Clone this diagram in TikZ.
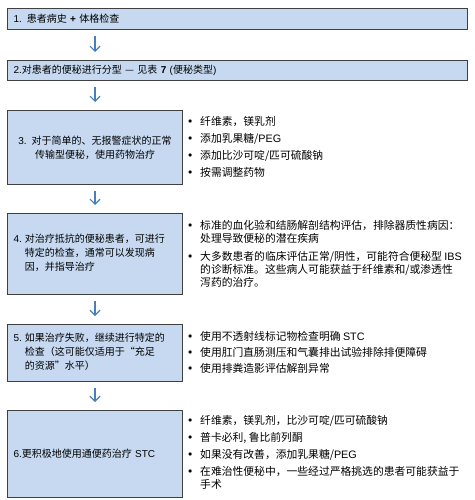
\documentclass[tikz,border=0pt]{standalone}
\usepackage{fontspec}
\setmainfont{Noto Sans CJK SC}
\newfontfamily\latin{Liberation Sans}
\usetikzlibrary{positioning,arrows.meta}
\definecolor{boxfill}{HTML}{C6D9F1}
\definecolor{boxline}{HTML}{404040}
\definecolor{arrowblue}{HTML}{4A7EBB}
\tikzstyle{stepbox}=[rectangle,draw=boxline,fill=boxfill,line width=1pt,inner xsep=6pt,inner ysep=0pt,text width=163pt,font=\fontsize{10}{14}\selectfont]
\tikzstyle{widebox}=[stepbox,text width=448pt,align=left]
\tikzstyle{bullets}=[inner sep=0pt,align=left,font=\fontsize{10.8}{13}\selectfont]
\tikzstyle{flow}=[arrowblue,line width=1.1pt,-{Straight Barb[length=5pt,width=10pt]},shorten <=6pt,shorten >=8pt]
\newcommand{\en}[1]{{\latin #1}}
\newcommand{\bl}{\makebox[12pt][l]{\raisebox{1.5pt}{$\scriptstyle\bullet$}}}

\begin{document}
\begin{tikzpicture}
    \useasboundingbox (0,0) rectangle (474pt,-500pt);

    \node (b1) [widebox,minimum height=21pt,anchor=north west] at (7pt,-8pt) {\en{1.} 患者病史 \en{\bfseries +} 体格检查};

    \node (b2) [widebox,minimum height=20pt,below=30pt of b1.south west,anchor=north west] {\en{2.}对患者的便秘进行分型 — 见表 \en{\bfseries 7} \en{(}便秘类型\en{)}};

    \node (b3) [stepbox,align=center,minimum height=74pt,below=29pt of b2.south west,anchor=north west] {\en{3.} 对于简单的、无报警症状的正常\\传输型便秘，使用药物治疗};
    \node (l3) [bullets,below right=6pt and 5pt of b3.north east] {\begin{tabular}{@{}l@{}l@{}}
        \bl & 纤维素，镁乳剂\\[4pt]
        \bl & 添加乳果糖/\en{PEG}\\[4pt]
        \bl & 添加比沙可啶/匹可硫酸钠\\[4pt]
        \bl & 按需调整药物
    \end{tabular}};

    \node (b4) [stepbox,align=left,minimum height=81pt,below=28pt of b3.south west,anchor=north west] {\begin{tabular}{@{}l@{\hspace{3pt}}l@{}}
        \en{4.} & 对治疗抵抗的便秘患者，可进行\\
        & 特定的检查，通常可以发现病\\
        & 因，并指导治疗
    \end{tabular}};
    \node (l4) [bullets,below right=7pt and 5pt of b4.north east] {\begin{tabular}{@{}l@{}l@{}}
        \bl & 标准的血化验和结肠解剖结构评估，排除器质性病因：\\
        & 处理导致便秘的潜在疾病\\[5pt]
        \bl & 大多数患者的临床评估正常/阴性，可能符合便秘型 \en{IBS}\\
        & 的诊断标准。这些病人可能获益于纤维素和/或渗透性\\
        & 泻药的治疗。
    \end{tabular}};

    \node (b5) [stepbox,align=left,minimum height=57pt,below=29pt of b4.south west,anchor=north west] {\begin{tabular}{@{}l@{\hspace{3pt}}l@{}}
        \en{5.} & 如果治疗失败，继续进行特定的\\
        & 检查（这可能仅适用于“充足\\
        & 的资源”水平）
    \end{tabular}};
    \node (l5) [bullets,below right=7pt and 5pt of b5.north east] {\begin{tabular}{@{}l@{}l@{}}
        \bl & 使用不透射线标记物检查明确 \en{STC}\\[3pt]
        \bl & 使用肛门直肠测压和气囊排出试验排除排便障碍\\[3pt]
        \bl & 使用排粪造影评估解剖异常
    \end{tabular}};

    \node (b6) [stepbox,align=left,minimum height=87pt,below=28pt of b5.south west,anchor=north west] {\en{6.}更积极地使用通便药治疗 \en{STC}};
    \node (l6) [bullets,below right=5pt and 5pt of b6.north east] {\begin{tabular}{@{}l@{}l@{}}
        \bl & 纤维素，镁乳剂，比沙可啶/匹可硫酸钠\\[4pt]
        \bl & 普卡必利, 鲁比前列酮\\[4pt]
        \bl & 如果没有改善，添加乳果糖/\en{PEG}\\[4pt]
        \bl & 在难治性便秘中，一些经过严格挑选的患者可能获益于\\
        & 手术
    \end{tabular}};

    \draw [flow] (b1.south -| b3) -- (b2.north -| b3);
    \draw [flow] (b2.south -| b3) -- (b3);
    \draw [flow] (b3) -- (b4);
    \draw [flow] (b4) -- (b5);
    \draw [flow] (b5) -- (b6);

\end{tikzpicture}
\end{document}
